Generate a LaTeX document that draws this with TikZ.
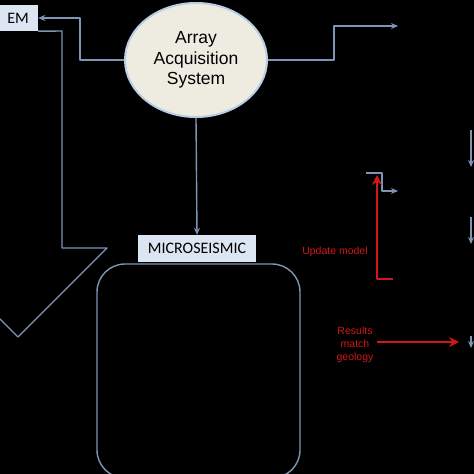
\documentclass[tikz,border=0pt]{standalone}
\usepackage{fontspec}
\setmainfont{Liberation Sans}
\newfontfamily\calibri{Carlito}
\usetikzlibrary{shapes.geometric, arrows.meta}
\definecolor{flowblue}{HTML}{7F95B5}
\definecolor{boxfill}{HTML}{DCE6F2}
\definecolor{ovalfill}{HTML}{EEECE1}
\definecolor{ovalrim}{HTML}{B9CDE5}
\definecolor{redline}{HTML}{D01818}
\tikzset{
  flow/.style={draw=flowblue, line width=1.4pt},
  redflow/.style={draw=redline, line width=2.8pt, >={Stealth[length=10pt, width=10pt]}},
  labelbox/.style={fill=boxfill, inner sep=0pt, font=\calibri\fontsize{16}{19}\selectfont},
  redtext/.style={text=redline, font=\fontsize{10.5}{13}\selectfont, align=center, inner sep=0pt},
}

\begin{document}
\begin{tikzpicture}[x=1pt, y=-1pt, line join=round, >={Stealth[length=7pt, width=6pt]}]
	\useasboundingbox (0,0) rectangle (474,474);
	\fill[black] (0,0) rectangle (474,474);
	\clip (0,0) rectangle (474,474);
	% boxes
	\node[ellipse, fill=ovalfill, draw=ovalrim, line width=2pt, minimum width=142pt, minimum height=114pt, inner sep=0pt, align=center, font=\fontsize{17.5}{20.5}\selectfont] (acq) at (196,60) {Array\\Acquisition\\System};
	\node[labelbox, minimum width=40pt, minimum height=26pt] (em) at (18,18) {EM};
	\node[labelbox, minimum width=118pt, minimum height=27pt] (micro) at (197,248.5) {MICROSEISMIC};
	\node[flow, rounded corners=28pt, minimum width=203pt, minimum height=214pt] (panel) at (198.5,371) {};
	% free ends
	\coordinate (out) at (398,26);
	\coordinate (s1) at (366,173);
	\coordinate (s2) at (398,191);
	\coordinate (r1) at (393,279);
	\coordinate (r2) at (377,175);
	\coordinate (rs) at (377,342);
	\coordinate (re) at (459,342);
	\coordinate (e1a) at (471,130);
	\coordinate (e1b) at (471,167);
	\coordinate (e2a) at (471,217);
	\coordinate (e2b) at (471,244);
	\coordinate (e3a) at (471,336);
	\coordinate (e3b) at (471,348);
	% blue connectors
	\draw[flow,->] (acq.west) -- ++(-44,0) |- (em.east);
	\draw[flow,->] (acq.east) -- ++(66,0) |- (out);
	\draw[flow,->] (acq.south) -- (micro.north);
	\draw[flow] (em.south east) -- (62,31) -- (62,248) -- (107,248) -- (18,337) -- (-10,309);
	\draw[flow,->] (s1) -- ++(16,0) |- (s2);
	\draw[flow,->] (e1a) -- (e1b);
	\draw[flow,->] (e2a) -- (e2b);
	\draw[flow,->] (e3a) -- (e3b);
	% red notes
	\node[redtext] (upd) at (335,252) {Update model};
	\node[redtext] (res) at (355,345) {Results\\match\\geology};
	\draw[redflow,->] (r1) -| (r2);
	\draw[redflow,->] (rs) -- (re);
\end{tikzpicture}
\end{document}
